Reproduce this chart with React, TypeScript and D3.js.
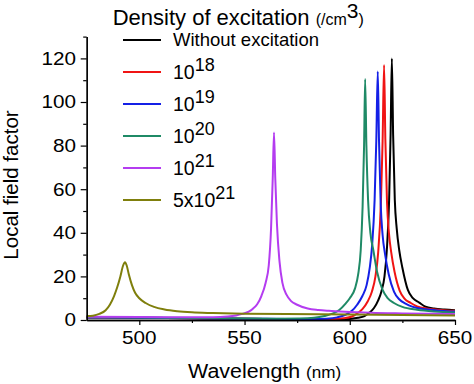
import React, { useEffect, useRef } from "react";
import * as d3 from "d3";

// axis ticks
const xTicks = [500, 550, 600, 650];
const xMinorTicks = [525, 575, 625];
const yTicks = [0, 20, 40, 60, 80, 100, 120];
const yMinorTicks = [10, 30, 50, 70, 90, 110, 130];

// legend
const seriesNames = ["Without excitation", "10", "10", "10", "10", "5x10"];
const seriesExponents = ["", "18", "19", "20", "21", "21"];
const seriesColors = ["#000000", "#f01414", "#1420e6", "#1f8a66", "#b43cf0", "#7f7f0c"];

// [wavelength nm, local field factor]
const withoutExcitation: [number, number][] = [
  [475, 1.2], [500, 1.0], [525, 0.8], [550, 0.6], [570, 0.4], [585, 0.3], [595, 0.3],
  [600, 0.5], [604, 1.0], [607, 1.8], [609.5, 3.5], [611.5, 5.5], [613.5, 9], [615, 13],
  [616.5, 20], [617.6, 32], [618.7, 55], [619.4, 85], [620, 120], [620.6, 85], [621.4, 55],
  [622.3, 42], [623.5, 32], [625, 24], [627.6, 13.8], [630, 10], [633, 8], [636, 6.1],
  [640, 5.3], [645, 4.8], [650, 4.5],
];
const density18: [number, number][] = [
  [475, 1.2], [500, 1.0], [525, 0.8], [550, 0.6], [570, 0.4], [585, 0.3], [592, 0.4],
  [597, 0.8], [601, 1.6], [603.5, 3], [606, 5], [608.5, 8.5], [610.5, 13], [612.2, 20],
  [613.5, 31], [614.8, 54], [615.6, 82], [616.3, 117], [616.9, 83], [617.7, 54], [618.6, 40],
  [619.7, 31], [621.3, 22], [623.7, 13.5], [626, 9.8], [629, 7.8], [632, 6.2], [637, 5.2],
  [643, 4.6], [650, 4.2],
];
const density19: [number, number][] = [
  [475, 1.2], [500, 1.0], [525, 0.8], [550, 0.6], [570, 0.5], [582, 0.4], [589, 0.6],
  [594, 1.2], [598, 2.4], [601, 4.2], [603.5, 7], [606, 11], [608, 16], [609.5, 24],
  [610.6, 34], [611.8, 55], [612.6, 82], [613.3, 114], [613.9, 82], [614.7, 53], [615.6, 39],
  [616.8, 30], [618.5, 21], [621, 13], [623.5, 9.5], [626.5, 7.5], [630, 6], [636, 4.9],
  [643, 4.3], [650, 3.9],
];
const density20: [number, number][] = [
  [475, 1.3], [500, 1.1], [525, 0.9], [550, 0.7], [565, 0.6], [576, 0.7], [583, 1.0],
  [588, 1.8], [592, 3.0], [595, 4.6], [598, 7.5], [600, 10], [602.5, 14.5], [604, 21],
  [605.2, 32], [606.1, 52], [606.8, 80], [607.3, 110.5], [607.9, 80], [608.7, 55],
  [609.8, 40], [611.2, 32], [613, 22], [615.5, 14], [618, 10], [621, 7.8], [625, 6],
  [632, 4.7], [640, 3.9], [650, 3.4],
];
const density21: [number, number][] = [
  [475, 1.5], [500, 1.4], [520, 1.3], [535, 1.3], [542, 1.6], [546, 2.1], [549, 2.8],
  [552, 3.8], [554, 5.2], [556, 7.2], [558, 11], [560, 17], [561.5, 25], [562.6, 42],
  [563.4, 65], [564, 86], [564.6, 65], [565.4, 44], [566.6, 27], [568, 17], [570, 11.5],
  [572, 8.8], [575, 7], [580, 5.3], [585, 4.6], [590, 4.2], [600, 3.7], [610, 3.3],
  [625, 3.0], [650, 2.7],
];
const density5x21: [number, number][] = [
  [475, 1.8], [478, 2.0], [481, 2.8], [484, 4.5], [486, 7], [488, 11], [489.5, 15],
  [491, 20], [492.3, 25], [493.2, 26.5], [494, 25], [495, 21], [496.5, 16], [498, 12.5],
  [500, 10], [503, 7.8], [507, 6], [512, 4.8], [518, 4], [525, 3.5], [535, 3.2],
  [550, 2.9], [570, 2.7], [600, 2.5], [625, 2.3], [650, 2.1],
];
const allSeries = [withoutExcitation, density18, density19, density20, density21, density5x21];

const font = "'Liberation Sans', Arial, sans-serif";

const App = () => {
  const svgRef = useRef<SVGSVGElement>(null);

  useEffect(() => {
    const svg = d3.select(svgRef.current);
    svg.selectAll("*").remove();

    const x = d3.scaleLinear().domain([475, 650]).range([86.7, 455]);
    const y = d3.scaleLinear().domain([0, 130]).range([320, 36.6]);

    // curves
    const line = d3
      .line<[number, number]>()
      .x((d) => x(d[0]))
      .y((d) => y(d[1]))
      .curve(d3.curveMonotoneX);

    allSeries.forEach((s, i) => {
      svg
        .append("path")
        .attr("d", line(s))
        .attr("fill", "none")
        .attr("stroke", seriesColors[i])
        .attr("stroke-width", 2)
        .attr("stroke-linejoin", "round");
    });

    // axes
    const styleAxis = (g) => {
      g.select(".domain").attr("stroke", "#000").attr("stroke-width", 1.3);
      g.selectAll(".tick line").attr("stroke", "#000").attr("stroke-width", 1.2);
      g.selectAll("text").remove();
    };

    svg.append("g").attr("transform", `translate(0,${y(0)})`)
      .call(d3.axisBottom(x).tickValues(xTicks).tickSize(5).tickSizeOuter(0)).call(styleAxis);
    svg.append("g").attr("transform", `translate(0,${y(0)})`)
      .call(d3.axisBottom(x).tickValues(xMinorTicks).tickSize(3).tickSizeOuter(0)).call(styleAxis);
    svg.append("g").attr("transform", `translate(${x(475)},0)`)
      .call(d3.axisLeft(y).tickValues(yTicks).tickSize(6).tickSizeOuter(0)).call(styleAxis);
    svg.append("g").attr("transform", `translate(${x(475)},0)`)
      .call(d3.axisLeft(y).tickValues(yMinorTicks).tickSize(3.5).tickSizeOuter(0)).call(styleAxis);

    // tick labels
    xTicks.forEach((t) => {
      svg.append("text")
        .attr("transform", `translate(${x(t)},344) scale(1.15,1)`)
        .attr("text-anchor", "middle")
        .style("font-family", font)
        .style("font-size", "18px")
        .text(t);
    });
    yTicks.forEach((t) => {
      svg.append("text")
        .attr("transform", `translate(76,${y(t) + 6.4}) scale(1.15,1)`)
        .attr("text-anchor", "end")
        .style("font-family", font)
        .style("font-size", "18px")
        .text(t);
    });

    // axis titles
    svg.append("text")
      .attr("transform", `translate(17.5,185) rotate(-90)`)
      .attr("text-anchor", "middle")
      .style("font-family", font)
      .style("font-size", "20.5px")
      .text("Local field factor");

    const xTitle = svg.append("text")
      .attr("transform", "translate(188,378) scale(1.07,1)")
      .style("font-family", font)
      .style("font-size", "20px");
    xTitle.append("tspan").text("Wavelength ");
    xTitle.append("tspan").style("font-size", "16px").text("(nm)");

    // legend title
    const title = svg.append("text")
      .attr("x", 112.7)
      .attr("y", 24.5)
      .style("font-family", font)
      .style("font-size", "22px");
    title.append("tspan").text("Density of excitation ");
    title.append("tspan").style("font-size", "16px").text("(/cm");
    title.append("tspan").attr("dy", -6.5).style("font-size", "21px").text("3");
    title.append("tspan").attr("dy", 6.5).style("font-size", "16px").text(")");

    // legend entries
    seriesNames.forEach((name, i) => {
      const ly = 40 + i * 32;
      svg.append("line")
        .attr("x1", 123).attr("x2", 161)
        .attr("y1", ly).attr("y2", ly)
        .attr("stroke", seriesColors[i])
        .attr("stroke-width", 2);
      const txt = svg.append("text")
        .attr("x", 173)
        .style("font-family", font);
      if (seriesExponents[i]) {
        txt.attr("y", ly + 6.5).style("font-size", "19.5px");
        txt.append("tspan").text(name);
        txt.append("tspan").attr("dy", -7.5).style("font-size", "18px").text(seriesExponents[i]);
      } else {
        txt.attr("y", ly + 5.5).style("font-size", "18.5px").text(name);
      }
    });
  }, []);

  return (
    <svg
      ref={svgRef}
      width={474}
      height={384}
      style={{ position: "absolute", left: 0, top: 0, background: "#fff" }}
    ></svg>
  );
};

export default App;
